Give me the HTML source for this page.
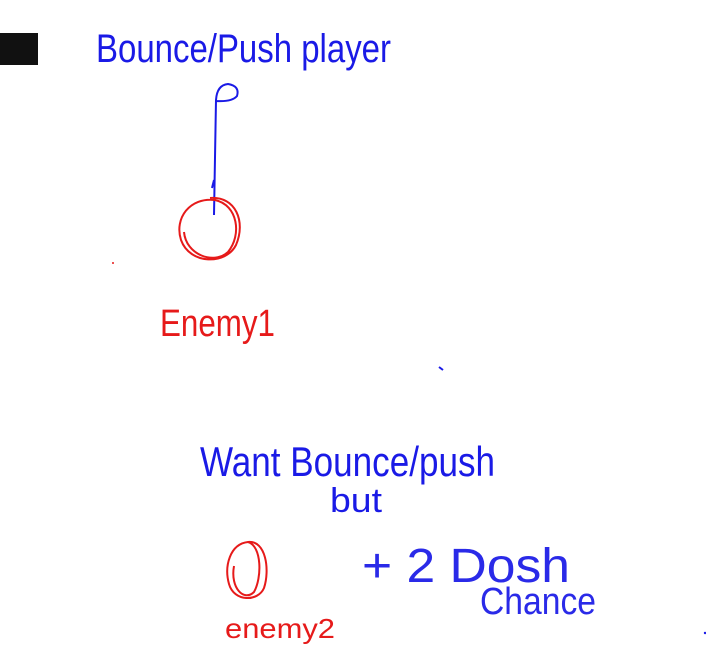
<!DOCTYPE html>
<html>
<head>
<meta charset="utf-8">
<style>
  html,body{margin:0;padding:0;background:#fff;}
  svg{display:block;}
  text{font-family:"Liberation Sans",sans-serif;}
</style>
</head>
<body>
<svg width="706" height="668" viewBox="0 0 706 668" xmlns="http://www.w3.org/2000/svg">
  <rect x="0" y="33" width="38" height="32" fill="#111"/>

  <text x="96" y="62" font-size="40" fill="#1a1ae6" textLength="295" lengthAdjust="spacingAndGlyphs">Bounce/Push player</text>

  <path d="M214 215 L216 100 Q217 85 228 84 Q240 86 237 96 Q232 102 216 101" fill="none" stroke="#1a1ae6" stroke-width="2"/>
  <path d="M212 188 L214 180" stroke="#1a1ae6" stroke-width="2"/>

  <path d="M210 198 C236 196 246 222 236 245 C226 265 190 265 181 240 C174 218 190 197 215 200 C238 205 242 235 228 252 C214 265 186 255 184 232" fill="none" stroke="#e61a1a" stroke-width="2"/>
  <circle cx="113" cy="263" r="1" fill="#e61a1a"/>
  <text x="160" y="336" font-size="38" fill="#e61a1a" textLength="115" lengthAdjust="spacingAndGlyphs">Enemy1</text>

  <path d="M439 367 L443 370" stroke="#1a1ae6" stroke-width="2"/>

  <text x="200" y="476" font-size="42" fill="#1a1ae6" textLength="295" lengthAdjust="spacingAndGlyphs">Want Bounce/push</text>
  <text x="330" y="512" font-size="34" fill="#1a1ae6" textLength="52" lengthAdjust="spacingAndGlyphs">but</text>

  <path d="M248 542 C266 540 270 570 264 588 C258 602 234 602 229 584 C224 566 230 544 248 542 C262 546 262 578 254 592 C244 602 230 588 234 566" fill="none" stroke="#e61a1a" stroke-width="2"/>
  <text x="225" y="638" font-size="28" fill="#e61a1a" textLength="110" lengthAdjust="spacingAndGlyphs">enemy2</text>

  <text x="362" y="582" font-size="48" fill="#2a2ae8" textLength="208" lengthAdjust="spacingAndGlyphs">+ 2 Dosh</text>
  <text x="480" y="614" font-size="38" fill="#2a2ae8" textLength="116" lengthAdjust="spacingAndGlyphs">Chance</text>

  <circle cx="705" cy="633" r="1.2" fill="#1a1ae6"/>
</svg>
</body>
</html>
